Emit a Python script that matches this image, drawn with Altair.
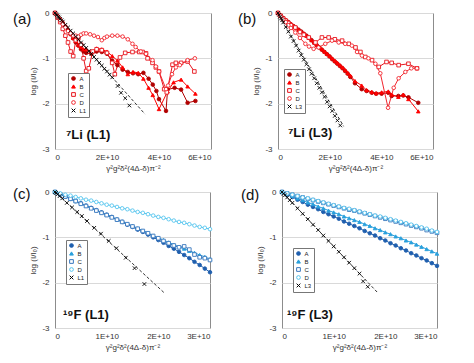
import altair as alt
import pandas as pd

FONT = "Liberation Sans"
XTITLE = "γ²g²δ²(4Δ-δ)π⁻²"
YTITLE = "log (I/I₀)"

# ---------------- panel (a): 7Li (L1), x in units of 1E+10 ----------------
a_A_x = [0,0.1,0.2,0.3,0.4,0.5,0.6,0.7,0.8,0.9,1.0,1.1,1.2,1.4,1.6,1.8,2.0,2.2,2.4,2.6,2.8,3.0,3.2,3.4,3.6,3.76,3.9,4.0,4.27,4.33,4.6,4.85,5.1,5.4]
a_A_y = [0,-0.07,-0.15,-0.22,-0.3,-0.38,-0.47,-0.56,-0.65,-0.72,-0.8,-0.85,-0.88,-0.9,-0.85,-0.86,-0.9,-1.05,-1.15,-1.25,-1.3,-1.33,-1.35,-1.32,-1.45,-1.58,-1.72,-1.9,-2.16,-1.69,-1.65,-1.69,-1.98,-1.94]
a_B_x = [0,0.1,0.2,0.3,0.4,0.5,0.6,0.7,0.8,0.9,1.0,1.1,1.2,1.4,1.6,1.8,2.0,2.2,2.4,2.6,2.8,3.0,3.2,3.4,3.6,3.76,4.0,4.33,4.56,4.85,5.1,5.4]
a_B_y = [0,-0.06,-0.13,-0.2,-0.28,-0.36,-0.45,-0.55,-0.62,-0.7,-0.75,-0.8,-0.8,-0.85,-0.78,-0.8,-0.85,-0.95,-1.05,-1.2,-1.35,-1.3,-1.32,-1.45,-1.65,-1.81,-2.12,-1.73,-1.53,-1.47,-1.62,-1.78]
a_C_x = [0,0.1,0.2,0.3,0.4,0.5,0.6,0.7,0.8,0.9,1.0,1.1,1.2,1.3,1.45,1.6,1.8,2.0,2.2,2.3,2.5,2.7,2.98,3.24,3.37,3.5,3.56,3.75,3.88,4.0,4.2,4.3,4.52,4.65,4.85,5.1,5.36]
a_C_y = [0,-0.1,-0.2,-0.35,-0.5,-0.65,-0.85,-0.95,-0.6,-0.55,-0.7,-1.0,-1.28,-1.22,-0.85,-0.8,-0.82,-0.88,-1.1,-1.35,-0.98,-0.88,-0.86,-0.86,-0.86,-0.89,-1.0,-1.1,-1.2,-1.29,-1.68,-1.75,-1.14,-1.1,-1.1,-1.07,-1.29]
a_D_x = [0,0.1,0.2,0.3,0.4,0.5,0.6,0.7,0.8,0.9,1.0,1.1,1.2,1.35,1.5,1.65,1.8,1.9,2.0,2.2,2.4,2.6,2.8,2.98,3.1,3.3,3.5,3.75,3.88,4.0,4.27,4.35,4.5,4.65,4.8,5.1,5.38]
a_D_y = [0,-0.08,-0.16,-0.25,-0.32,-0.4,-0.45,-0.5,-0.5,-0.52,-0.48,-0.45,-0.45,-0.47,-0.5,-0.53,-0.6,-0.55,-0.52,-0.5,-0.5,-0.52,-0.58,-0.68,-0.75,-0.85,-0.9,-1.04,-1.18,-1.29,-1.68,-1.6,-1.35,-1.2,-1.15,-1.04,-1.0]
a_L_x = [0,0.04,0.08,0.12,0.16,0.2,0.25,0.3,0.4,0.5,0.6,0.7,0.8,0.9,1.0,1.1,1.2,1.3,1.4,1.5,1.6,1.7,1.8,1.9,2.0,2.1,2.2,2.41,2.54,2.7,2.86]
a_L_y = [0,-0.03,-0.05,-0.08,-0.1,-0.13,-0.16,-0.19,-0.26,-0.32,-0.39,-0.45,-0.52,-0.58,-0.65,-0.71,-0.77,-0.84,-0.9,-0.97,-1.03,-1.1,-1.16,-1.23,-1.29,-1.36,-1.42,-1.61,-1.76,-1.88,-2.04]
a_fit_x = [0, 3.46]
a_fit_y = [0, -2.23]

# ---------------- panel (b): 7Li (L3) ----------------
b_AB_x = [0,0.1,0.2,0.3,0.4,0.5,0.6,0.7,0.8,0.9,1.0,1.1,1.2,1.3,1.4,1.5,1.6,1.7,1.8,1.9,2.0,2.1,2.2,2.3,2.4,2.5,2.6,2.7,2.8,2.98,3.24,3.43,3.63,3.8,4.01,4.27,4.4,4.66,4.85,5.05,5.43]
b_A_y = [0,-0.06,-0.11,-0.16,-0.2,-0.25,-0.29,-0.33,-0.37,-0.41,-0.46,-0.5,-0.55,-0.6,-0.66,-0.71,-0.76,-0.81,-0.86,-0.91,-0.96,-1.02,-1.07,-1.12,-1.17,-1.22,-1.28,-1.34,-1.41,-1.55,-1.68,-1.72,-1.76,-1.78,-1.78,-1.76,-1.83,-1.83,-1.82,-1.86,-1.98]
b_B_y = [0,-0.05,-0.1,-0.15,-0.2,-0.24,-0.28,-0.32,-0.37,-0.41,-0.45,-0.5,-0.55,-0.6,-0.65,-0.7,-0.75,-0.8,-0.85,-0.9,-0.95,-1.0,-1.05,-1.1,-1.15,-1.2,-1.26,-1.32,-1.38,-1.5,-1.6,-1.7,-1.74,-1.77,-1.75,-1.73,-1.8,-1.85,-1.8,-1.9,-2.17]
b_C_x = [0,0.1,0.2,0.3,0.4,0.5,0.67,0.85,1.0,1.19,1.45,1.7,1.96,2.2,2.48,2.74,3.0,3.19,3.38,3.64,3.9,4.2,4.4,4.67,5.05,5.38]
b_C_y = [0,-0.06,-0.12,-0.17,-0.22,-0.27,-0.32,-0.42,-0.48,-0.54,-0.65,-0.54,-0.54,-0.58,-0.61,-0.68,-0.76,-0.86,-0.97,-1.04,-1.19,-1.08,-1.1,-1.15,-1.12,-1.22]
b_D_x = [0,0.1,0.2,0.3,0.4,0.5,0.67,0.85,1.06,1.2,1.38,1.57,1.83,2.09,2.35,2.6,2.86,3.06,3.25,3.5,3.77,3.96,4.26,4.48,4.67,4.93,5.16,5.38]
b_D_y = [0,-0.07,-0.14,-0.2,-0.27,-0.33,-0.43,-0.55,-0.68,-0.74,-0.79,-0.76,-0.68,-0.61,-0.65,-0.68,-0.72,-0.86,-0.94,-1.0,-1.12,-1.33,-2.09,-1.65,-1.44,-1.3,-1.22,-1.22]
b_L_x = [0,0.04,0.08,0.12,0.16,0.2,0.3,0.4,0.5,0.6,0.7,0.8,0.9,1.0,1.1,1.2,1.3,1.4,1.5,1.6,1.7,1.8,1.9,2.0,2.1,2.2,2.3,2.41]
b_L_y = [0,-0.04,-0.08,-0.12,-0.16,-0.21,-0.31,-0.41,-0.52,-0.62,-0.72,-0.83,-0.93,-1.03,-1.13,-1.24,-1.34,-1.44,-1.55,-1.65,-1.75,-1.85,-1.96,-2.06,-2.16,-2.27,-2.37,-2.48]
b_fit_x = [0, 2.54]
b_fit_y = [0, -2.5]

# ---------------- panel (c): 19F (L1) ----------------
cd_x = [0,0.1,0.2,0.3,0.4,0.5,0.6,0.7,0.8,0.9,1.0,1.1,1.2,1.3,1.4,1.5,1.6,1.7,1.8,1.9,2.0,2.1,2.2,2.3,2.4,2.5,2.6,2.7,2.8,2.9,3.0]
c_A_y = [0,-0.05,-0.1,-0.15,-0.2,-0.25,-0.3,-0.35,-0.4,-0.45,-0.5,-0.55,-0.61,-0.66,-0.72,-0.77,-0.83,-0.88,-0.94,-1.0,-1.06,-1.12,-1.19,-1.25,-1.32,-1.39,-1.46,-1.54,-1.61,-1.69,-1.77]
c_B_y = [0,-0.05,-0.1,-0.15,-0.2,-0.25,-0.3,-0.35,-0.4,-0.45,-0.5,-0.55,-0.6,-0.65,-0.7,-0.75,-0.8,-0.85,-0.9,-0.96,-1.01,-1.06,-1.11,-1.16,-1.21,-1.25,-1.3,-1.34,-1.39,-1.43,-1.48]
c_C_y = [0,-0.05,-0.1,-0.15,-0.2,-0.26,-0.31,-0.36,-0.41,-0.46,-0.51,-0.56,-0.61,-0.66,-0.71,-0.76,-0.81,-0.86,-0.91,-0.97,-1.02,-1.08,-1.13,-1.18,-1.22,-1.2,-1.27,-1.38,-1.44,-1.46,-1.5]
c_D_y = [0,-0.03,-0.06,-0.08,-0.11,-0.14,-0.17,-0.19,-0.22,-0.25,-0.28,-0.3,-0.33,-0.36,-0.38,-0.41,-0.44,-0.46,-0.49,-0.52,-0.55,-0.57,-0.6,-0.63,-0.66,-0.68,-0.71,-0.74,-0.77,-0.79,-0.82]
c_L_x = [0,0.02,0.05,0.09,0.14,0.23,0.33,0.43,0.52,0.62,0.76,0.89,1.04,1.19,1.37,1.54,1.73]
c_L_y = [0,-0.02,-0.05,-0.09,-0.14,-0.24,-0.34,-0.44,-0.53,-0.64,-0.79,-0.92,-1.08,-1.24,-1.45,-1.68,-2.03]
c_fit_x = [0, 2.12]
c_fit_y = [0, -2.23]

# ---------------- panel (d): 19F (L3) ----------------
d_A_y = [0,-0.06,-0.11,-0.17,-0.22,-0.28,-0.33,-0.38,-0.44,-0.49,-0.54,-0.59,-0.65,-0.7,-0.75,-0.8,-0.86,-0.91,-0.96,-1.02,-1.07,-1.13,-1.18,-1.24,-1.29,-1.35,-1.4,-1.46,-1.51,-1.57,-1.63]
d_B_y = [0,-0.05,-0.09,-0.14,-0.18,-0.23,-0.27,-0.32,-0.36,-0.41,-0.45,-0.49,-0.54,-0.58,-0.62,-0.66,-0.71,-0.75,-0.8,-0.84,-0.89,-0.93,-0.98,-1.02,-1.07,-1.11,-1.16,-1.21,-1.26,-1.31,-1.36]
d_C_y = [0,-0.03,-0.06,-0.09,-0.12,-0.15,-0.18,-0.21,-0.24,-0.27,-0.3,-0.33,-0.36,-0.39,-0.41,-0.44,-0.47,-0.5,-0.53,-0.56,-0.59,-0.62,-0.65,-0.68,-0.71,-0.74,-0.77,-0.8,-0.84,-0.87,-0.9]
d_D_y = [0,-0.03,-0.06,-0.09,-0.12,-0.14,-0.17,-0.2,-0.23,-0.26,-0.29,-0.32,-0.35,-0.37,-0.4,-0.43,-0.46,-0.49,-0.52,-0.54,-0.57,-0.6,-0.63,-0.66,-0.69,-0.72,-0.75,-0.78,-0.81,-0.85,-0.88]
d_L_x = [0,0.03,0.06,0.1,0.15,0.2,0.3,0.4,0.5,0.6,0.7,0.8,0.9,1.0,1.1,1.2,1.3,1.4,1.5,1.57,1.66]
d_L_y = [0,-0.04,-0.07,-0.12,-0.18,-0.24,-0.36,-0.48,-0.6,-0.72,-0.84,-0.96,-1.08,-1.2,-1.32,-1.44,-1.56,-1.68,-1.8,-1.97,-2.09]
d_fit_x = [0, 1.86]
d_fit_y = [0, -2.23]

RED = ["#B00000", "#FF0000", "#E8141C", "#F2262E", "#000000"]
BLUE = ["#1F5FAE", "#2AA0DC", "#3A78BE", "#56C5EE", "#000000"]
SHAPES = ["circle", "triangle-up", "square", "circle", "M-1,-1L1,1M-1,1L1,-1"]

INDEP = dict(shape="independent", fill="independent", stroke="independent",
             color="independent", x="independent", y="independent")


def make_panel(series, fit_x, fit_y, colors, xmax, xticks, letter, note,
               lx, ly, w, h, lpos):
    rows = []
    for k, (name, xs, ys) in enumerate(series):
        for i, (xv, yv) in enumerate(zip(xs, ys)):
            rows.append({"x": xv, "y": yv, "s": name, "i": i, "k": k})
    df = pd.DataFrame(rows)
    names = [s[0] for s in series]
    fdf = pd.DataFrame({"x": fit_x, "y": fit_y})

    xenc = alt.X("x:Q", scale=alt.Scale(domain=[0, xmax], nice=False, zero=False),
                 axis=alt.Axis(values=xticks, title=XTITLE, grid=False, ticks=False,
                               domain=False, labelPadding=4, titlePadding=3,
                               labelExpr="datum.value == 0 ? '0' : datum.value + 'E+10'"))
    yenc = alt.Y("y:Q", scale=alt.Scale(domain=[-3, 0], nice=False, zero=False),
                 axis=alt.Axis(values=[0, -1, -2, -3], title=YTITLE, grid=True,
                               ticks=False, domain=False, labelPadding=6,
                               titlePadding=4, labelExpr="'' + datum.value"))

    leg = alt.Legend(orient="none", legendX=lx, legendY=ly, title=None,
                     labelFontSize=6, labelFont=FONT, labelColor="#222",
                     symbolSize=14, symbolStrokeWidth=1, rowPadding=0,
                     padding=2.5, labelOffset=3, strokeColor="#777",
                     fillColor="white")

    lines = alt.Chart(df).transform_filter(alt.datum.k < 4).mark_line(
        strokeWidth=1).encode(
        x=xenc, y=yenc,
        color=alt.Color("s:N", scale=alt.Scale(domain=names[:4], range=colors[:4]),
                        legend=None),
        order="i:Q")

    fit = alt.Chart(fdf).mark_line(strokeDash=[3, 2], strokeWidth=1,
                                   color="#333").encode(x=xenc, y=yenc)

    fills = [colors[0], colors[1], "white", "white", "#000000"]
    pts = alt.Chart(df).mark_point(opacity=1, strokeWidth=0.9, size=13).encode(
        x=xenc, y=yenc,
        shape=alt.Shape("s:N", scale=alt.Scale(domain=names, range=SHAPES), legend=leg),
        fill=alt.Fill("s:N", scale=alt.Scale(domain=names, range=fills), legend=leg),
        stroke=alt.Stroke("s:N", scale=alt.Scale(domain=names, range=colors), legend=leg),
        order="k:Q")

    tl = alt.Chart(pd.DataFrame({"t": [letter]})).mark_text(
        align="left", baseline="middle", fontSize=15, font=FONT, color="#111").encode(
        x=alt.value(lpos[0]), y=alt.value(lpos[1]), text="t:N")
    tn = alt.Chart(pd.DataFrame({"t": [note]})).mark_text(
        align="left", baseline="middle", fontSize=13, fontWeight="bold",
        font=FONT, color="#111").encode(
        x=alt.value(lpos[2]), y=alt.value(lpos[3]), text="t:N")

    return alt.layer(lines, fit, pts, tl, tn).properties(width=w, height=h)


pa = make_panel([("A", a_A_x, a_A_y), ("B", a_B_x, a_B_y), ("C", a_C_x, a_C_y),
                 ("D", a_D_x, a_D_y), ("L1", a_L_x, a_L_y)],
                a_fit_x, a_fit_y, RED, 6, [0, 2, 4, 6], "(a)", "⁷Li (L1)",
                13, 60, 156, 136, (-42, 6, 11, 122))
pb = make_panel([("A", b_AB_x, b_A_y), ("B", b_AB_x, b_B_y), ("C", b_C_x, b_C_y),
                 ("D", b_D_x, b_D_y), ("L3", b_L_x, b_L_y)],
                b_fit_x, b_fit_y, RED, 6, [0, 2, 4, 6], "(b)", "⁷Li (L3)",
                6, 56, 155, 136, (-40, 6, 10, 120))
pc = make_panel([("A", cd_x, c_A_y), ("B", cd_x, c_B_y), ("C", cd_x, c_C_y),
                 ("D", cd_x, c_D_y), ("L1", c_L_x, c_L_y)],
                c_fit_x, c_fit_y, BLUE, 3, [0, 1, 2, 3], "(c)", "¹⁹F (L1)",
                11, 48, 155, 136, (-42, 2, 8, 123))
pd_ = make_panel([("A", cd_x, d_A_y), ("B", cd_x, d_B_y), ("C", cd_x, d_C_y),
                  ("D", cd_x, d_D_y), ("L3", d_L_x, d_L_y)],
                 d_fit_x, d_fit_y, BLUE, 3, [0, 1, 2, 3], "(d)", "¹⁹F (L3)",
                 11, 56, 155, 136, (-41, 3, 5, 123))

top = alt.hconcat(pa, pb, spacing=25).resolve_scale(**INDEP)
bottom = alt.hconcat(pc, pd_, spacing=25).resolve_scale(**INDEP)

chart = alt.vconcat(top, bottom, spacing=13).resolve_scale(**INDEP).configure_view(
    stroke="#8c8c8c", strokeWidth=1).configure_axis(
    labelFont=FONT, titleFont=FONT, labelFontSize=8, titleFontSize=8,
    titleFontWeight="normal", labelColor="#333", titleColor="#333",
    gridColor="#d9d9d9", gridWidth=1,
).properties(padding={"left": 4, "top": 0, "right": 0, "bottom": 0})

chart.save("out.html", embed_options={"renderer": "svg", "actions": False})
